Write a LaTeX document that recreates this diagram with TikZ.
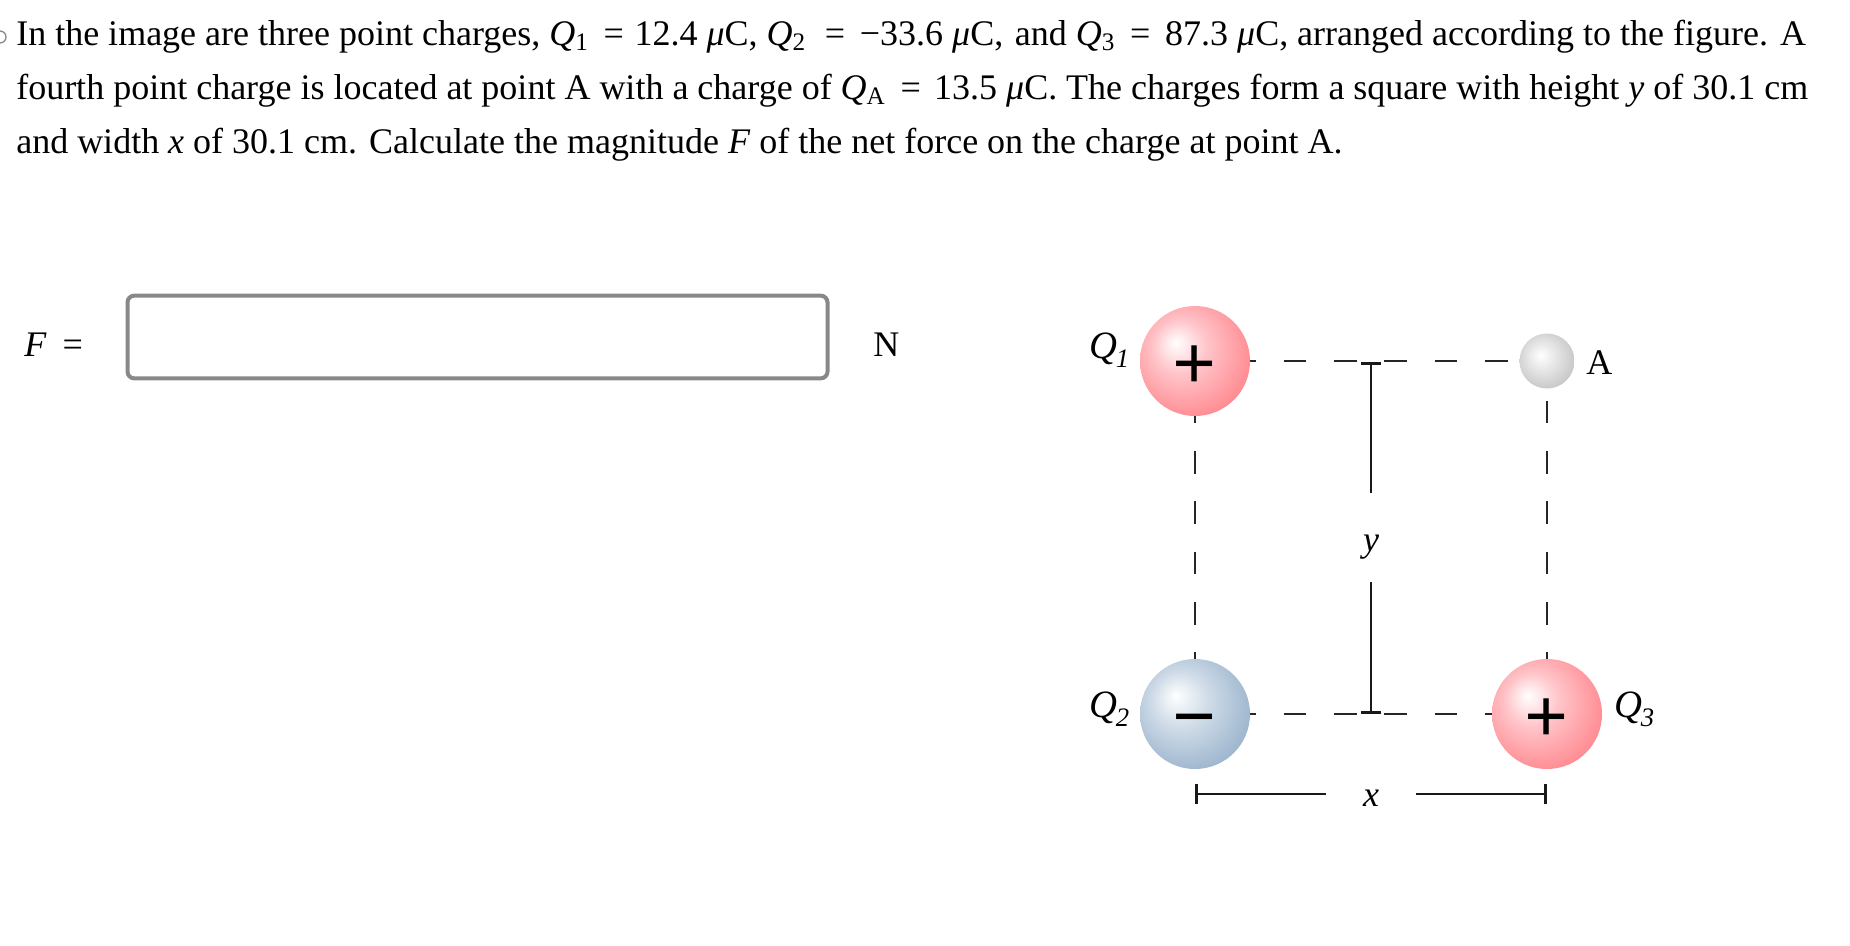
\documentclass[tikz,border=0pt]{standalone}
\usepackage{fontspec}
\setmainfont{Liberation Serif}
\usepackage{tikz}
\usetikzlibrary{arrows.meta,backgrounds}

\definecolor{redmid}{RGB}{255,195,200}
\definecolor{redrim}{RGB}{255,115,122}
\definecolor{bluemid}{RGB}{208,220,232}
\definecolor{bluerim}{RGB}{135,165,195}
\definecolor{greymid}{RGB}{235,235,235}
\definecolor{greyrim}{RGB}{200,200,200}
\definecolor{boxgrey}{RGB}{136,136,136}
\pgfdeclareradialshading{redball}{\pgfpoint{-9bp}{8.5bp}}{color(0bp)=(white); color(12.5bp)=(redmid); color(37.5bp)=(redrim); color(50bp)=(redrim)}
\pgfdeclareradialshading{blueball}{\pgfpoint{-9bp}{8.5bp}}{color(0bp)=(white); color(12.5bp)=(bluemid); color(37.5bp)=(bluerim); color(50bp)=(bluerim)}
\pgfdeclareradialshading{greyball}{\pgfpoint{-6bp}{5.5bp}}{color(0bp)=(white); color(10bp)=(greymid); color(28bp)=(greyrim); color(50bp)=(greyrim)}

\tikzset{
  textline/.style={anchor=base west,inner sep=0pt,font=\fontsize{27}{30}\selectfont},
  chargelabel/.style={anchor=base west,inner sep=0pt,font=\fontsize{29}{30}\selectfont\itshape},
  charge/.style={circle,inner sep=0pt,minimum size=82.5pt,text height=43pt,text depth=0pt,font=\fontsize{58}{58}\selectfont\bfseries},
  testcharge/.style={circle,inner sep=0pt,minimum size=41.25pt,shading=greyball},
  dimline/.style={line width=2.2pt,draw=black!90},
  sideline/.style={line width=0.9pt,draw=black!85,dash pattern=on 16.9pt off 20.85pt},
}
\newcommand{\lsub}[1]{\textsubscript{#1}}
\newcommand{\chargesub}[1]{\kern-1pt\raisebox{-7pt}{\fontsize{20}{20}\selectfont #1}}
\newcommand{\eqsign}[2]{\hspace{#1}=\hspace{#2}}

\begin{document}
\begin{tikzpicture}[x=0.75pt,y=0.75pt,yscale=-1,xscale=1]
\useasboundingbox (0,0) rectangle (1850,946);

%Question text
\node [textline] (lineone) at (16,45) {In the image are three point charges, \textit{Q}\lsub{1} \eqsign{4.5pt}{8pt}12.4 \textit{μ}C, \textit{Q}\lsub{2} \eqsign{7.5pt}{11pt}−33.6 \textit{μ}C,\hspace{2pt} and \textit{Q}\lsub{3} \eqsign{4.5pt}{11pt}87.3 \textit{μ}C, arranged according to the figure. A};
\node [textline] (linetwo) at (16,99) {fourth point charge is located at point A with a charge of \textit{Q}\lsub{A} \eqsign{4.5pt}{10pt}13.5 \textit{μ}C. The charges form a square with height \textit{y} of 30.1 cm};
\node [textline] (linethree) at (16,153) {and width \textit{x} of 30.1 cm. Calculate the magnitude \textit{F} of the net force on the charge at point A.};

%Answer row
\node [textline] (flabel) at (24,356) {\textit{F}\hspace{12pt}=};
\node [draw=boxgrey,line width=3pt,rounded corners=5pt,minimum width=525pt,minimum height=62pt,inner sep=0pt] (answerbox) at (477.5,337) {};
\node [textline] (unitlabel) at (873,356) {N};

%Charges
\node [charge,shading=redball] (qone) at (1195,361) {+};
\node [charge,shading=blueball] (qtwo) at (1195,714) {−};
\node [charge,shading=redball] (qthree) at (1547,714) {+};
\node [testcharge] (qa) at (1547,361) {};

%Sides of the square
\begin{scope}[on background layer]
\draw [sideline,dash phase=9pt] (qone.center) -- (qa.center);
\draw [sideline,dash phase=9pt] (qtwo.center) -- (qthree.center);
\draw [sideline,dash phase=8pt] (qone.center) -- (qtwo.center);
\draw [sideline,dash phase=8pt] (qa.center) -- (qthree.center);
\end{scope}

%Charge names
\node [chargelabel] (qonelabel) at (1089,358) {Q\chargesub{1}};
\node [chargelabel] (qtwolabel) at (1089,717) {Q\chargesub{2}};
\node [chargelabel] (qthreelabel) at (1614,717) {Q\chargesub{3}};
\node [chargelabel,font=\fontsize{27}{30}\selectfont] (qalabel) at (1586,374) {A};

%Dimension lines
\coordinate (ytop) at (1371,362);
\coordinate (ybottom) at (1371,714);
\coordinate (xleft) at (1195,794);
\coordinate (xright) at (1547,794);
\node [anchor=base,inner sep=0pt,text height=43.5pt,text depth=23.25pt,font=\fontsize{27}{30}\selectfont\itshape] (ylabel) at (1371,551) {y};
\node [inner sep=0pt,minimum width=67.5pt,font=\fontsize{27}{30}\selectfont\itshape] (xlabel) at (1371,798) {x};
\draw [dimline,{Bar[width=15pt,line width=2.2pt]}-] (ytop) -- (ylabel.north);
\draw [dimline,{Bar[width=15pt,line width=2.2pt]}-] (ybottom) -- (ylabel.south);
\draw [dimline,{Bar[width=15pt,line width=2.2pt]}-] (xleft) -- (xleft -| xlabel.west);
\draw [dimline,{Bar[width=15pt,line width=2.2pt]}-] (xright) -- (xright -| xlabel.east);

%Cut off mark at the left edge
\draw [draw=boxgrey,line width=1pt] (0,37) circle (6);

\end{tikzpicture}
\end{document}
